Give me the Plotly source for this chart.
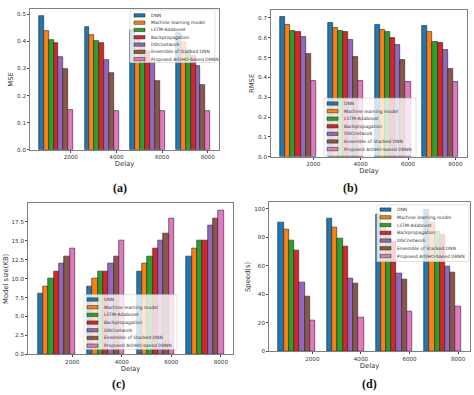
import plotly.graph_objects as go

W_IMG, H_IMG = 474, 395

delays = [2000, 4000, 6000, 8000]
series_names = ["DNN", "Machine learning model", "LSTM-Adaboost", "Backpropagation",
                "DGCnetwork", "Ensemble of Stacked DNN", "Proposed ArDHO-based DRNN"]
colors = ["#1f77b4", "#ff7f0e", "#2ca02c", "#d62728", "#9467bd", "#8c564b", "#e377c2"]

# (a) MSE
mse_dnn = [0.495, 0.452, 0.441, 0.432]
mse_ml = [0.440, 0.424, 0.410, 0.397]
mse_lstm = [0.405, 0.400, 0.390, 0.370]
mse_bp = [0.395, 0.393, 0.365, 0.345]
mse_dgc = [0.342, 0.332, 0.325, 0.311]
mse_ens = [0.297, 0.285, 0.254, 0.240]
mse_prop = [0.146, 0.144, 0.143, 0.142]

# (b) RMSE
rmse_dnn = [0.705, 0.674, 0.666, 0.661]
rmse_ml = [0.665, 0.652, 0.641, 0.630]
rmse_lstm = [0.636, 0.633, 0.631, 0.578]
rmse_bp = [0.629, 0.629, 0.598, 0.576]
rmse_dgc = [0.603, 0.587, 0.563, 0.541]
rmse_ens = [0.516, 0.504, 0.490, 0.442]
rmse_prop = [0.382, 0.380, 0.378, 0.377]

# (c) Model size (KB)
size_dnn = [8, 9, 11, 13]
size_ml = [9, 10, 12, 14]
size_lstm = [10, 11, 13, 15]
size_bp = [11, 11, 14, 15]
size_dgc = [12, 12, 15, 17]
size_ens = [13, 13, 16, 18]
size_prop = [14, 15, 18, 19]

# (d) Speed (s)
speed_dnn = [90.7, 93.0, 96.3, 99.5]
speed_ml = [85.8, 87.2, 90.0, 90.5]
speed_lstm = [77.7, 79.1, 82.5, 84.0]
speed_bp = [70.8, 73.3, 77.0, 81.7]
speed_dgc = [48.3, 51.3, 54.5, 59.4]
speed_ens = [38.3, 47.8, 50.3, 55.2]
speed_prop = [21.6, 23.9, 27.8, 31.3]

y_titles = ["MSE", "RMSE", "Model size(KB)", "Speed(s)"]
y_ticks = [[0.0, 0.1, 0.2, 0.3, 0.4, 0.5],
           [0.0, 0.1, 0.2, 0.3, 0.4, 0.5, 0.6, 0.7],
           [0.0, 2.5, 5.0, 7.5, 10.0, 12.5, 15.0, 17.5],
           [0, 20, 40, 60, 80, 100]]
y_formats = [".1f", ".1f", ".1f", "d"]
captions = ["(a)", "(b)", "(c)", "(d)"]

panel_values = [
    [mse_dnn, mse_ml, mse_lstm, mse_bp, mse_dgc, mse_ens, mse_prop],
    [rmse_dnn, rmse_ml, rmse_lstm, rmse_bp, rmse_dgc, rmse_ens, rmse_prop],
    [size_dnn, size_ml, size_lstm, size_bp, size_dgc, size_ens, size_prop],
    [speed_dnn, speed_ml, speed_lstm, speed_bp, speed_dgc, speed_ens, speed_prop],
]

# ---------------- layout geometry (pixels) ----------------
# plot boxes: x0, x1, y_top, y_bottom
boxes = [(30, 219, 9, 151), (271, 467, 10, 158), (28, 233, 205, 357), (269, 470, 204, 354)]
# legend boxes: x0, x1, y0, y1, first item y, step, patch x0, patch x1, text x
legends = [
    (130, 215, 10, 63, 15.5, 7.35, 134, 145, 149),
    (324, 416, 99, 157, 104.3, 7.65, 327, 338, 342),
    (84, 177, 297, 352, 301.8, 7.75, 87, 98, 102),
    (377, 469, 206.5, 263.5, 211.2, 7.8, 380, 391, 395),
]
caption_pos = [(120, 189.5), (350, 189.5), (118, 387), (369, 387)]
BAR_W = 215
X_RANGE = [215, 8490]
FONT = "DejaVu Sans"


def px(x):
    return x / W_IMG


def py(y):
    return 1 - y / H_IMG


fig = go.Figure()
shapes = []
annotations = []
layout = {}

for p in range(4):
    sfx = "" if p == 0 else str(p + 1)
    xa, ya = "x" + sfx, "y" + sfx
    vals = panel_values[p]
    for i, name in enumerate(series_names):
        fig.add_trace(go.Bar(
            x=delays, y=vals[i], name=name,
            width=BAR_W, offset=(i - 6) * BAR_W - BAR_W / 2,
            marker=dict(color=colors[i], line=dict(color="#222222", width=0.6)),
            xaxis=xa, yaxis=ya, showlegend=False,
        ))
    x0, x1, yt, yb = boxes[p]
    maxv = max(max(v) for v in vals)
    layout["xaxis" + sfx] = dict(
        domain=[px(x0), px(x1)], anchor=ya, range=X_RANGE,
        tickmode="array", tickvals=delays, ticktext=[str(d) for d in delays],
        ticks="outside", ticklen=2, tickwidth=0.6, tickcolor="#444",
        showline=True, mirror=True, linecolor="#808080", linewidth=0.8,
        showgrid=False, zeroline=False,
        tickfont=dict(size=5.6, color="#333", family=FONT),
        title=dict(text="Delay", font=dict(size=6.8, color="#333", family=FONT), standoff=0),
    )
    layout["yaxis" + sfx] = dict(
        domain=[py(yb), py(yt)], anchor=xa, range=[0, maxv * 1.05],
        tickmode="array", tickvals=y_ticks[p], tickformat=y_formats[p],
        ticks="outside", ticklen=2, tickwidth=0.6, tickcolor="#444",
        showline=True, mirror=True, linecolor="#808080", linewidth=0.8,
        showgrid=False, zeroline=False,
        tickfont=dict(size=5.6, color="#333", family=FONT),
        title=dict(text=y_titles[p], font=dict(size=6.8, color="#333", family=FONT), standoff=2),
    )

    # legend (matplotlib-style, semi-transparent)
    lx0, lx1, ly0, ly1, iy0, step, pa, pb, tx = legends[p]
    shapes.append(dict(type="rect", xref="paper", yref="paper", layer="above",
                       x0=px(lx0), x1=px(lx1), y0=py(ly1), y1=py(ly0),
                       fillcolor="rgba(255,255,255,0.8)",
                       line=dict(color="#d0d0d0", width=0.6)))
    for i, name in enumerate(series_names):
        cy = iy0 + i * step
        shapes.append(dict(type="rect", xref="paper", yref="paper", layer="above",
                           x0=px(pa), x1=px(pb), y0=py(cy + 1.7), y1=py(cy - 1.7),
                           fillcolor=colors[i], line=dict(color="#222222", width=0.5)))
        annotations.append(dict(text=name, xref="paper", yref="paper",
                                x=px(tx), y=py(cy), xanchor="left", yanchor="middle",
                                showarrow=False,
                                font=dict(size=4.5, color="#333", family=FONT)))
    cx, cy = caption_pos[p]
    annotations.append(dict(text="<b>" + captions[p] + "</b>", xref="paper", yref="paper",
                            x=px(cx), y=py(cy), xanchor="center", yanchor="middle",
                            showarrow=False,
                            font=dict(size=12, color="#111", family="Liberation Serif")))

fig.update_layout(
    width=W_IMG, height=H_IMG,
    margin=dict(l=0, r=0, t=0, b=0),
    paper_bgcolor="white", plot_bgcolor="white",
    barmode="overlay", bargap=0,
    shapes=shapes, annotations=annotations,
    font=dict(family=FONT),
    **layout,
)

fig.write_html("out.html", config={"displayModeBar": False},
               post_script="document.body.style.margin='0';document.body.style.overflow='hidden';")
